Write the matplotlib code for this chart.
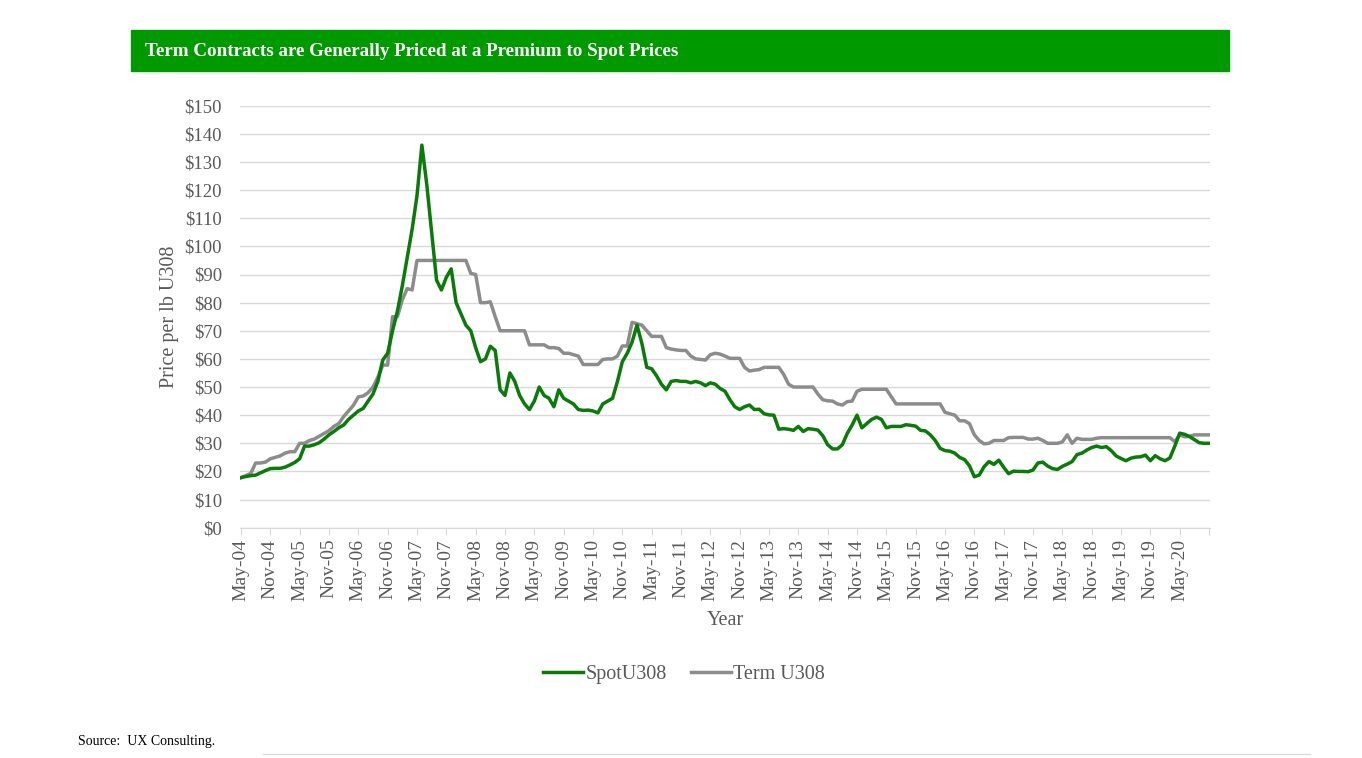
import matplotlib
matplotlib.use('Agg')
import matplotlib.pyplot as plt
import pandas as pd
from matplotlib.patches import Rectangle
from matplotlib.lines import Line2D

# monthly prices, May-04 .. Nov-20 ($/lb U3O8)
spot = [
    17.8, 18.2, 18.5, 18.7, 19.5, 20.3, 21.0, 21.1,          # 2004 May-Dec
    21.1, 21.5, 22.3, 23.2, 24.5, 29.0, 29.0, 29.5, 30.2, 31.5, 33.0, 34.2,   # 2005
    35.5, 36.5, 38.5, 40.0, 41.5, 42.4, 45.0, 47.5, 52.0, 59.6, 62.0, 70.0,   # 2006
    77.0, 86.0, 96.0, 106.0, 118.0, 136.0, 122.0, 105.0, 88.0, 84.5, 89.0, 92.0,   # 2007
    80.0, 76.0, 72.0, 70.0, 64.0, 59.0, 60.0, 64.5, 63.0, 49.0, 47.0, 55.0,   # 2008
    52.0, 47.0, 44.0, 42.0, 45.0, 50.0, 47.0, 46.0, 43.0, 49.0, 46.0, 45.0,   # 2009
    44.0, 42.0, 41.7, 41.8, 41.5, 40.8, 44.0, 45.0, 46.0, 52.0, 59.0, 62.0,   # 2010
    66.0, 72.0, 65.5, 57.0, 56.5, 54.0, 51.0, 49.0, 52.0, 52.3, 52.0, 52.0,   # 2011
    51.5, 52.0, 51.5, 50.5, 51.5, 51.0, 49.5, 48.5, 45.5, 43.0, 42.0, 43.0,   # 2012
    43.6, 42.0, 42.1, 40.5, 40.1, 40.0, 35.0, 35.2, 35.0, 34.6, 36.0, 34.2,   # 2013
    35.2, 35.0, 34.7, 32.7, 29.5, 28.0, 28.0, 29.5, 33.5, 36.5, 40.0, 35.5,   # 2014
    37.0, 38.5, 39.3, 38.5, 35.5, 36.0, 36.0, 36.0, 36.6, 36.4, 36.1, 34.6,   # 2015
    34.4, 33.0, 31.0, 28.2, 27.4, 27.2, 26.5, 25.0, 24.2, 22.0, 18.1, 18.7,   # 2016
    21.7, 23.5, 22.5, 24.0, 21.5, 19.2, 20.1, 20.0, 20.0, 19.9, 20.5, 23.0,   # 2017
    23.3, 21.9, 21.0, 20.7, 21.8, 22.6, 23.5, 26.0, 26.5, 27.6, 28.5, 29.0,   # 2018
    28.5, 28.8, 27.4, 25.5, 24.6, 23.8, 24.7, 25.1, 25.2, 25.8, 23.8, 25.6,   # 2019
    24.5, 23.8, 24.8, 29.0, 33.6, 33.2, 32.4, 31.3, 30.2, 30.0, 30.0,         # 2020 Jan-Nov
]
term = [
    17.8, 18.5, 19.3, 23.0, 23.0, 23.3, 24.5, 25.0,
    25.5, 26.5, 27.0, 27.0, 30.0, 30.0, 31.0, 31.5, 32.5, 33.5, 34.5, 36.0,
    37.0, 39.5, 41.5, 43.5, 46.5, 46.8, 48.0, 50.0, 53.5, 57.8, 57.8, 75.0,
    75.0, 81.0, 85.0, 84.5, 95.0, 95.0, 95.0, 95.0, 95.0, 95.0, 95.0, 95.0,
    95.0, 95.0, 95.0, 90.4, 90.0, 80.0, 80.0, 80.3, 75.0, 70.0, 70.0, 70.0,
    70.0, 70.0, 70.0, 65.0, 65.0, 65.0, 65.0, 64.0, 64.0, 63.7, 62.0, 62.0,
    61.5, 61.0, 58.0, 58.0, 58.0, 58.0, 59.8, 60.0, 60.0, 61.0, 64.6, 64.6,
    73.0, 72.5, 72.0, 70.0, 68.0, 68.0, 68.0, 64.0, 63.5, 63.2, 63.0, 63.0,
    61.0, 60.0, 59.8, 59.6, 61.5, 62.0, 61.7, 61.0, 60.2, 60.2, 60.2, 57.0,
    55.7, 56.0, 56.2, 57.0, 57.0, 57.0, 57.0, 54.5, 51.0, 50.0, 50.0, 50.0,
    50.0, 50.0, 47.5, 45.5, 45.1, 45.0, 44.0, 43.6, 44.8, 45.0, 48.5, 49.2,
    49.2, 49.2, 49.2, 49.2, 49.2, 46.6, 44.0, 44.0, 44.0, 44.0, 44.0, 44.0,
    44.0, 44.0, 44.0, 44.0, 41.0, 40.5, 40.0, 38.0, 38.0, 37.0, 33.0, 31.0,
    29.8, 30.0, 31.0, 31.0, 31.0, 32.0, 32.1, 32.1, 32.1, 31.5, 31.5, 31.8,
    31.0, 30.0, 30.0, 30.0, 30.5, 33.0, 30.0, 31.8, 31.4, 31.4, 31.4, 31.8,
    32.0, 32.0, 32.0, 32.0, 32.0, 32.0, 32.0, 32.0, 32.0, 32.0, 32.0, 32.0,
    32.0, 32.0, 32.0, 30.6, 33.0, 32.3, 32.5, 33.0, 33.0, 33.0, 33.0,
]
months = pd.date_range('2004-05-01', periods=len(spot), freq='MS')
month_labels = [d.strftime('%b-%y') for d in months]
yticks = list(range(0, 151, 10))

SERIF = ['Liberation Serif', 'DejaVu Serif']
TXT = '#595959'
GREEN = '#0A7A0A'
GREY = '#8C8C8C'

fig = plt.figure(figsize=(13.62, 7.58), dpi=100)
fig.patch.set_facecolor('white')

# green title bar
fig.patches.append(Rectangle((131 / 1362, 1 - 71 / 758), 1098 / 1362, 41 / 758,
                             transform=fig.transFigure, color='#009900', zorder=0))
fig.text(145 / 1362, 1 - 51 / 758, 'Term Contracts are Generally Priced at a Premium to Spot Prices',
         color='white', fontsize=13.7, fontweight='bold', family=SERIF, va='center', ha='left')

ax = fig.add_axes([240 / 1362, 1 - 527.7 / 758, 970 / 1362, 422 / 758])
x = list(range(len(spot)))
ax.plot(x, spot, color=GREEN, lw=2.5, zorder=3, solid_joinstyle='round')
ax.plot(x, term, color=GREY, lw=2.5, zorder=2, solid_joinstyle='round')

ax.set_ylim(0, 150)
ax.set_xlim(-0.2, len(spot) - 0.8)
ax.set_yticks(yticks)
ax.set_yticklabels(['$%d' % v for v in yticks], family=SERIF, fontsize=13.5, color=TXT)
xt = list(range(0, len(spot), 6))
ax.set_xticks(xt)
ax.set_xticklabels([month_labels[i] if i < 193 else '' for i in xt], rotation=90,
                   family=SERIF, fontsize=14, color=TXT)
ax.tick_params(axis='y', length=0, pad=13)
ax.tick_params(axis='x', length=5, color='#D9D9D9', pad=3)

ax.grid(axis='y', color='#D9D9D9', lw=1)
ax.set_axisbelow(True)
for s in ['top', 'right', 'left']:
    ax.spines[s].set_visible(False)
ax.spines['bottom'].set_color('#D9D9D9')

ax.set_ylabel('Price per lb U308', family=SERIF, fontsize=14.5, color=TXT, labelpad=4)
ax.set_xlabel('Year', family=SERIF, fontsize=14.5, color=TXT, labelpad=7)

handles = [Line2D([], [], color=GREEN, lw=2.5), Line2D([], [], color=GREY, lw=2.5)]
fig.legend(handles, ['SpotU308', 'Term U308'], loc='center', bbox_to_anchor=(684 / 1362, 1 - 674 / 758),
           ncol=2, frameon=False, prop={'family': SERIF, 'size': 14.5}, labelcolor=TXT,
           handlelength=2.0, handletextpad=0.1, columnspacing=1.2)

fig.text(78 / 1362, 1 - 742 / 758, 'Source:  UX Consulting.', fontsize=10, family=SERIF,
         color='black', va='center', ha='left')
fig.add_artist(Line2D([263 / 1362, 1310 / 1362], [1 - 754 / 758, 1 - 754 / 758],
                      transform=fig.transFigure, color='#D9D9D9', lw=0.8))

fig.savefig('out.png', dpi=100)
